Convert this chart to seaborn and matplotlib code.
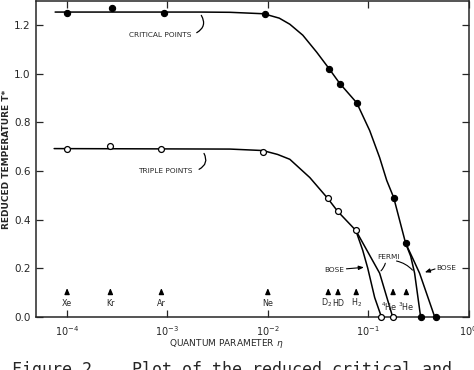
import numpy as np
import pandas as pd
import matplotlib
matplotlib.use('Agg')
import matplotlib.pyplot as plt
import seaborn as sns

crit_eta = [1.0e-4, 2.8e-4, 9.3e-4, 9.3e-3, 0.0405, 0.052, 0.0769, 0.179, 0.236, 0.333, 0.470]
crit_T = [1.249, 1.269, 1.249, 1.245, 1.020, 0.958, 0.880, 0.491, 0.303, 0.0, 0.0]
trip_eta = [1.0e-4, 2.68e-4, 8.6e-4, 8.9e-3, 0.0396, 0.0497, 0.0752, 0.1355, 0.1754]
trip_T = [0.692, 0.704, 0.692, 0.676, 0.487, 0.434, 0.356, 0.0, 0.0]

# smooth curves (vertices)
crit_curve_eta = [7.6e-5, 2.1e-3, 4.2e-3, 9.1e-3, 0.0130, 0.01656, 0.0223, 0.0307, 0.0405, 0.052,
                  0.0769, 0.1035, 0.130, 0.153, 0.1794, 0.236]
crit_curve_T = [1.253, 1.253, 1.252, 1.246, 1.228, 1.203, 1.158, 1.088, 1.022, 0.960,
                0.880, 0.766, 0.655, 0.561, 0.491, 0.303]
crit_bose_eta = [0.236, 0.277, 0.325, 0.460]
crit_bose_T = [0.303, 0.242, 0.180, 0.0]
crit_fermi_eta = [0.236, 0.265, 0.290, 0.333]
crit_fermi_T = [0.303, 0.250, 0.180, 0.0]
trip_curve_eta = [7.43e-5, 4.2e-3, 8.9e-3, 0.0125, 0.01656, 0.0262, 0.0396, 0.0497, 0.0752]
trip_curve_T = [0.692, 0.690, 0.684, 0.668, 0.648, 0.573, 0.487, 0.434, 0.356]
trip_bose_eta = [0.0752, 0.0882, 0.0989, 0.116, 0.1355]
trip_bose_T = [0.356, 0.274, 0.201, 0.080, 0.0]
trip_fermi_eta = [0.0752, 0.0944, 0.130, 0.1754]
trip_fermi_T = [0.356, 0.283, 0.180, 0.0]

# substances marked along the bottom
subst_names = ['Xe', 'Kr', 'Ar', 'Ne', 'D$_2$', 'HD', 'H$_2$', '$^4$He', '$^3$He']
subst_eta = [1.0e-4, 2.7e-4, 8.7e-4, 1.0e-2, 0.040, 0.050, 0.076, 0.177, 0.240]
subst_label_eta = [1.0e-4, 2.7e-4, 8.7e-4, 1.0e-2, 0.0385, 0.050, 0.0765, 0.161, 0.238]

xtick_vals = [1e-4, 1e-3, 1e-2, 1e-1, 1e0]
xtick_labels = ['$10^{-4}$', '$10^{-3}$', '$10^{-2}$', '$10^{-1}$', '$10^{0}$']
ytick_vals = [0.0, 0.2, 0.4, 0.6, 0.8, 1.0, 1.2]

sns.set_style('ticks')
plt.rcParams['font.family'] = ['DejaVu Sans']

fig = plt.figure(figsize=(4.74, 3.70), dpi=100)
ax = fig.add_axes([36 / 474, 1 - 317 / 370, 433 / 474, 317 / 370 - 0.003])

lw = 1.1
for ex, ty in [(crit_curve_eta, crit_curve_T), (crit_bose_eta, crit_bose_T),
               (crit_fermi_eta, crit_fermi_T), (trip_curve_eta, trip_curve_T),
               (trip_bose_eta, trip_bose_T), (trip_fermi_eta, trip_fermi_T)]:
    d = pd.DataFrame({'eta': ex, 'T': ty})
    sns.lineplot(data=d, x='eta', y='T', sort=False, estimator=None, color='black',
                 linewidth=lw, ax=ax)

cp = pd.DataFrame({'eta': crit_eta, 'T': crit_T})
tp = pd.DataFrame({'eta': trip_eta, 'T': trip_T})
sns.scatterplot(data=cp, x='eta', y='T', color='black', s=20, edgecolor='black',
                linewidth=0.8, ax=ax, zorder=5, clip_on=False)
sns.scatterplot(data=tp, x='eta', y='T', color='white', s=18, edgecolor='black',
                linewidth=0.9, ax=ax, zorder=5, clip_on=False)

ax.set_xscale('log')
ax.set_xlim(4.9e-5, 1.01)
ax.set_ylim(0, 1.298)
ax.set_xticks(xtick_vals)
ax.set_xticklabels(xtick_labels, fontsize=7)
ax.minorticks_off()
ax.set_yticks(ytick_vals)
ax.set_yticklabels(['%.1f' % v for v in ytick_vals], fontsize=7.5)
ax.tick_params(direction='in', length=5, width=0.9, top=True, right=True, pad=4)
ax.tick_params(axis='x', pad=5)
for s in ax.spines.values():
    s.set_linewidth(1.1)
    s.set_visible(True)
ax.set_xlabel('')
ax.set_ylabel('')

fig.text(7 / 474, 1 - 159 / 370, 'REDUCED TEMPERATURE T*', fontsize=6.5,
         fontweight='bold', rotation=90, ha='center', va='center')
fig.text(226 / 474, 1 - 343 / 370, 'QUANTUM PARAMETER $\\eta$', fontsize=6.5,
         ha='center', va='center')

# substance markers
for name, e, le in zip(subst_names, subst_eta, subst_label_eta):
    ax.annotate('', xy=(e, 0.130), xytext=(e, 0.088),
                arrowprops=dict(arrowstyle='-|>,head_length=0.35,head_width=0.15',
                                color='black', lw=0.9))
    yy = 0.040 if 'He' in name else 0.057
    ax.text(le, yy, name, fontsize=5.8, ha='center', va='center')

# curve labels
ax.text(8.5e-4, 1.159, 'CRITICAL POINTS', fontsize=5.3, ha='center', va='center')
ax.annotate('', xy=(2.1e-3, 1.249), xytext=(1.85e-3, 1.163),
            arrowprops=dict(arrowstyle='-', color='black', lw=0.9,
                            connectionstyle='arc3,rad=0.6'))
ax.text(9.6e-4, 0.598, 'TRIPLE POINTS', fontsize=5.3, ha='center', va='center')
ax.annotate('', xy=(2.24e-3, 0.682), xytext=(1.95e-3, 0.602),
            arrowprops=dict(arrowstyle='-', color='black', lw=0.9,
                            connectionstyle='arc3,rad=0.6'))
ax.text(0.0454, 0.192, 'BOSE', fontsize=5.3, ha='center', va='center')
ax.annotate('', xy=(0.0966, 0.205), xytext=(0.057, 0.197),
            arrowprops=dict(arrowstyle='-|>,head_length=0.3,head_width=0.12',
                            color='black', lw=0.8))
ax.text(0.160, 0.248, 'FERMI', fontsize=5.3, ha='center', va='center')
ax.annotate('', xy=(0.128, 0.182), xytext=(0.150, 0.232),
            arrowprops=dict(arrowstyle='-', color='black', lw=0.8,
                            connectionstyle='arc3,rad=-0.2'))
ax.annotate('', xy=(0.288, 0.184), xytext=(0.180, 0.232),
            arrowprops=dict(arrowstyle='-', color='black', lw=0.8,
                            connectionstyle='arc3,rad=-0.2'))
ax.text(0.604, 0.201, 'BOSE', fontsize=5.3, ha='center', va='center')
ax.annotate('', xy=(0.345, 0.180), xytext=(0.492, 0.201),
            arrowprops=dict(arrowstyle='-|>,head_length=0.3,head_width=0.12',
                            color='black', lw=0.8))

# caption (cut off at bottom, like the scan)
fig.text(12 / 474, 1 - 361 / 370, 'Figure 2.   Plot of the reduced critical and',
         fontsize=12, family='DejaVu Sans Mono', ha='left', va='top')

fig.savefig('out.png', dpi=100)
